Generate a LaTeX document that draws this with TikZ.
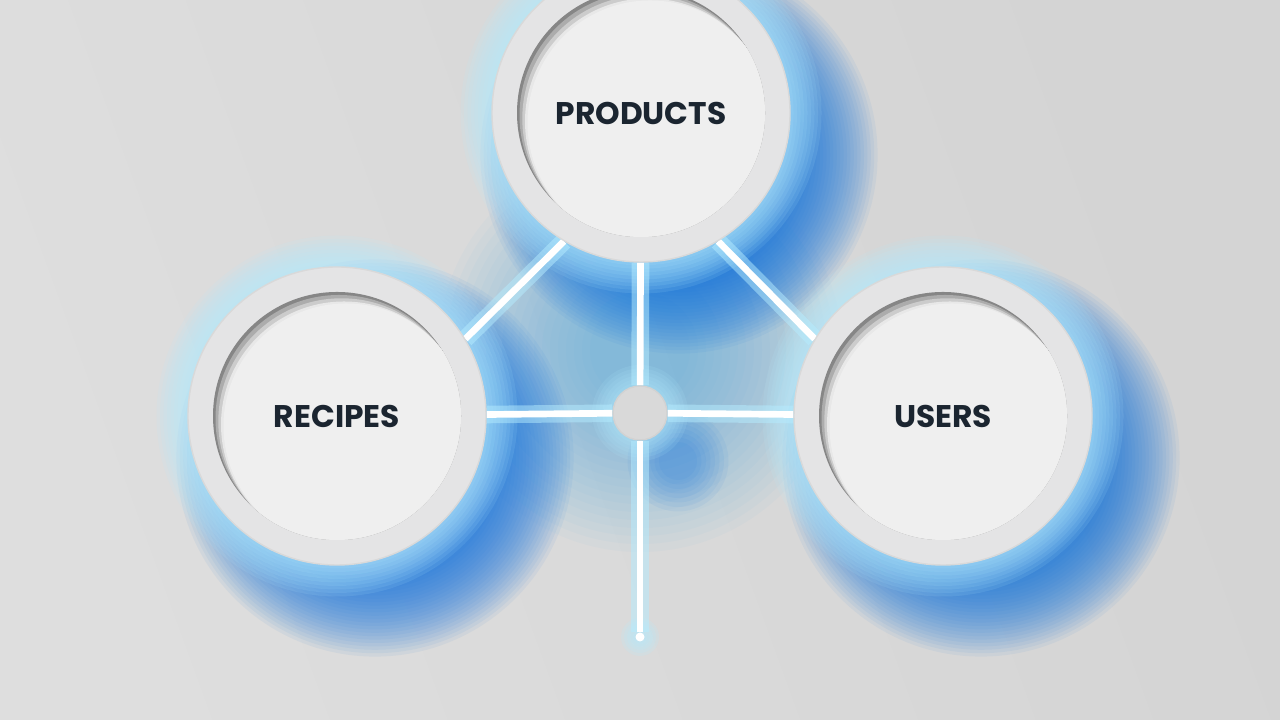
\documentclass[tikz,border=0pt]{standalone}
\usepackage{fontspec}
\setsansfont{Poppins}
\usetikzlibrary{calc}
\pgfdeclarelayer{background}
\pgfsetlayers{background,main}
\definecolor{glowblue}{HTML}{0F72DA}
\definecolor{washblue}{HTML}{4AA8E8}
\definecolor{halo}{HTML}{B5ECFF}
\definecolor{ringgray}{HTML}{E4E4E5}
\definecolor{facegray}{HTML}{EFEFEF}
\definecolor{inkblue}{HTML}{1B2530}
\tikzset{
  >=latex,
}
\tikzstyle{bubble}=[circle,minimum size=2.98cm,inner sep=0pt,text=inkblue,
  font=\sffamily\bfseries\fontsize{8.9}{11}\selectfont]
\tikzstyle{hub}=[circle,minimum size=0.54cm,inner sep=0pt,fill=gray!30,draw=white!65!gray,thin]
\tikzstyle{tipdot}=[circle,minimum size=0.09cm,inner sep=0pt,fill=white]
\tikzstyle{link}=[white,line width=1.9pt]
\tikzstyle{linkglow}=[halo,line width=5pt,opacity=.5]

\begin{document}
\begin{tikzpicture}
    \useasboundingbox (0,0) rectangle (12.8,7.2);
    \clip (0,0) rectangle (12.8,7.2);

    \node[bubble] (products) at (6.41,6.07) {PRODUCTS};
    \node[bubble] (recipes) at (3.37,3.04) {RECIPES};
    \node[bubble] (users) at (9.43,3.04) {USERS};
    \node[hub] (core) at (6.4,3.07) {};
    \node[tipdot] (end) at (6.4,0.83) {};

    \begin{pgfonlayer}{background}
      \shade[left color=gray!26,right color=gray!34,shading angle=110]
        (0,0) rectangle (12.8,7.2);
      % blue wash between the bubbles
      \foreach \k in {1,...,20}
        \fill[washblue,opacity=.04] (6.4,3.7) circle ({2.1-.08*\k});
      % soft blue shadows
      \foreach \n in {products,recipes,users}{
        \foreach \k in {1,...,24}
          \fill[glowblue,opacity=.06] ($(\n)+(.38,-.42)$) circle ({2.02-.034*\k});
      }
      \foreach \k in {1,...,8}
        \fill[glowblue,opacity=.06] ($(core)+(.38,-.48)$) circle ({.55-.045*\k});
      % halos
      \foreach \n in {products,recipes,users}{
        \foreach \k in {1,...,9}
          \fill[halo,opacity=.12] (\n) circle ({1.49+.035*\k});
      }
      \foreach \k in {1,...,6}
        \fill[halo,opacity=.12] (core) circle ({.27+.035*\k});
      \foreach \k in {1,...,5}
        \fill[halo,opacity=.18] (end) circle ({.04+.03*\k});
      % links
      \foreach \a/\b in {products.239/recipes.31,products.301/users.149,
          products/core,recipes/core,users/core,core/end}{
        \draw[linkglow] (\a) -- (\b);
        \draw[link] (\a) -- (\b);
      }
      % rings
      \foreach \n in {products,recipes,users}{
        \fill[ringgray,draw=white!70!gray] (\n) circle (1.49);
        \fill[gray!95] (\n) circle (1.24);
        \begin{scope}
          \clip (\n) circle (1.24);
          \fill[gray!65] ($(\n)+(.02,-.025)$) circle (1.235);
          \fill[gray!40] ($(\n)+(.045,-.055)$) circle (1.232);
          \fill[gray!18] ($(\n)+(.07,-.085)$) circle (1.23);
          \fill[facegray] ($(\n)+(.09,-.1)$) circle (1.225);
        \end{scope}
      }
    \end{pgfonlayer}
\end{tikzpicture}
\end{document}
